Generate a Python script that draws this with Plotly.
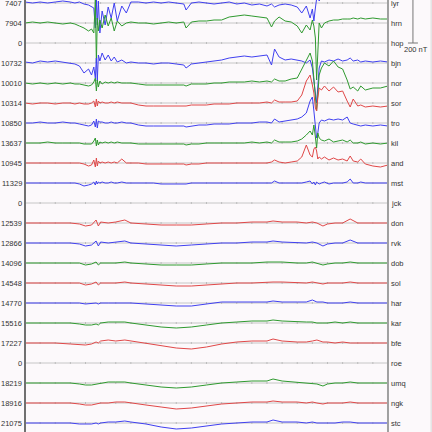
import plotly.graph_objects as go

# Stacked magnetometer plot: station codes (right) and baseline values in nT (left)
STATIONS = ["lyr", "hrn", "hop", "bjn", "nor", "sor", "tro", "kil", "and", "mst", "jck",
            "don", "rvk", "dob", "sol", "har", "kar", "bfe", "roe", "umq", "ngk", "stc"]
BASE_LABELS = ["7407", "7904", "0", "10732", "10010", "10314", "10850", "13637", "10945",
               "11329", "0", "12539", "12866", "14096", "14548", "14770", "15516", "17227",
               "0", "18219", "18916", "21075"]

# time (UT hours)
T_FINE = [0, 0.5, 1, 1.5, 2, 2.5, 3, 3.3, 3.6, 3.9, 4.2, 4.4, 4.55, 4.65, 4.72, 4.78, 4.85,
          4.95, 5.1, 5.3, 5.5, 5.7, 5.9, 6.1, 6.4, 6.7, 7.0, 7.5, 8, 8.5, 9, 9.5, 10, 10.5,
          10.65, 11, 11.5, 12, 12.5, 13, 13.5, 14, 14.5, 15, 15.5, 16, 16.3, 16.5, 16.8,
          17.2, 17.6, 18.0, 18.3, 18.6, 18.85, 19.0, 19.1, 19.2, 19.28, 19.36, 19.45, 19.6,
          19.8, 20.1, 20.4, 20.7, 21.0, 21.3, 21.5, 21.7, 22.0, 22.2, 22.5, 23.0, 23.5, 24.0]
T_COARSE = [0, 1, 2, 3, 3.6, 4.0, 4.4, 4.7, 4.85, 5.0, 5.5, 6.0, 6.6, 7.0, 8, 9, 10, 11, 12,
            13, 14, 15, 16, 16.4, 17, 18, 18.6, 19.0, 19.3, 19.7, 20.0, 20.5, 21.0, 21.5,
            22.0, 23.0, 24.0]

# deviations from baseline (nT)
LYR = [5, 0, 5, 0, 5, 10, 5, 0, 5, -5, -10, -20, -25, -125, 15, -110, 10, -150, -40, -110,
       -20, -75, 0, -90, -15, -50, 5, 5, 0, 5, 0, 5, 0, -5, -35, 0, 5, 0, -5, 0,
       5, -5, 0, -10, -5, -15, -5, -20, -10, -5, -10, -20, -50, -15, -75, -30, -90, -25, 20, 30,
       10, 30, 40, 50, 40, 50, 40, 50, 40, 40, 50, 40, 45, 50, 45, 50]
HRN = [0, 5, 0, 5, 0, -5, 0, -5, -15, -25, -40, -30, -50, 115, -200, 25, -40, 15, -25, 40,
       -15, 25, -40, 10, -15, 0, 5, 0, 0, -5, 0, 5, 0, 5, -25, 5, 10, 10, 15, 15,
       30, 35, 40, 35, 30, 25, -20, 10, 30, 10, 5, -15, -50, -10, -35, 15, -15, -75, -285, -100,
       0, -25, 0, 10, 15, 15, 20, 20, 20, 25, 20, 25, 20, 25, 20, 20]
BJN = [5, 0, 10, 5, 10, 5, 0, -5, -15, -50, -30, -60, -20, -75, 25, -90, 40, 10, 50, 15,
       40, 10, 30, 5, 15, 0, 5, 0, 0, -5, 0, 0, -5, -10, -25, -5, 0, 5, 10, 15,
       25, 30, 35, 30, 35, 40, -10, 70, 30, 15, 20, 15, 10, 0, 15, -25, -75, -150, -200, -100,
       -25, 10, 5, 15, 10, 20, 10, 15, 25, 10, 15, 5, 10, 5, 10, 5]
NOR = [0, -5, 0, -5, 0, -5, 0, -5, -5, -10, -15, -10, 5, 25, -40, 15, -20, 10, -5, 5,
       0, 5, 0, 5, 0, 0, 0, -5, -10, -10, -10, -10, -10, -10, -15, -5, -5, -5, 0, 0,
       5, 5, 5, 10, 5, 10, 5, 20, 10, 10, 20, 25, 70, 120, 150, 110, 25, -75, -140, -60,
       40, 75, 100, 85, 110, 80, 70, 15, -30, -20, -40, -15, -35, -25, -25, -15]
SOR = [0, -5, 0, 0, -5, 0, 0, -5, 0, -5, -5, 0, 10, -20, 20, -15, 10, 0, 5, 0,
       0, 5, 0, 5, 0, 0, 0, -10, -15, -15, -15, -15, -15, -15, -15, -10, -10, -10, -5, -5,
       -5, 0, 0, 0, 0, 5, 0, 15, 5, 5, 5, 10, 40, 110, 140, 90, 50, -25, -40, 25,
       75, 65, 85, 60, 80, 55, 60, 10, -20, 20, -15, -10, -20, -15, -20, -15]
TRO = [0, 0, 5, 0, 0, 5, 0, 0, -5, -10, -15, -10, 10, -20, 20, -25, 10, 5, 5, 0,
       0, 5, 0, 0, 5, 0, 0, -10, -15, -15, -15, -15, -15, -15, -20, -15, -10, -10, -5, -5,
       -5, 0, 0, 0, 5, 5, 0, 20, 5, 10, 15, 20, 30, 50, 110, 130, 60, -25, -75, -50,
       0, 15, 10, 20, 15, 20, 15, 30, 0, -5, -10, -15, -10, -15, -10, -15]
KIL = [0, 0, 0, 5, 0, 0, 0, 0, 0, -5, -5, -5, 10, 25, -15, 15, -10, 5, 0, 5,
       0, 5, 0, 5, 0, 0, 0, -5, -5, -5, -5, -5, -5, -5, -10, -5, -5, 0, 0, 0,
       0, 0, 0, 5, 0, 5, 0, 15, 5, 5, 5, 10, 20, 40, 60, 40, 90, 30, -25, 50,
       25, 15, 10, 20, 5, 10, 15, 5, 15, 0, 0, 5, -5, 0, -5, 0]
AND = [0, 0, 0, 0, 0, 0, 0, 0, 0, -5, -15, -10, 15, -20, 25, -15, 10, 0, 5, 0,
       5, 0, 5, 0, 20, 0, 0, 0, -5, -5, -5, -5, -5, -5, -10, -5, -5, 0, 0, 0,
       0, 0, 0, 0, 0, 0, 5, 15, 5, 0, 5, 10, 30, 90, 40, 30, 70, 80, 60, 20,
       30, 20, 30, 15, 25, 15, 20, 10, 35, 10, 5, 20, -5, -15, -20, -10]
MST = [0, 0, 0, 0, 0, 0, 0, 0, -5, -15, -10, -5, 5, -10, 10, -5, 5, 0, 5, 0,
       0, 5, 0, 0, 5, 0, 0, 0, 0, 0, -5, -5, -5, -5, -5, 0, 0, 0, 0, 0,
       0, 0, 0, 0, 0, 0, 0, 10, 0, 0, 0, 0, 0, 5, 10, -5, 5, -10, 5, 0,
       -5, 0, 5, -5, 0, 0, 0, 5, 20, 0, 0, 5, 0, 0, 0, 0]

DON = [0, 0, 0, 0, -5, -15, -10, 15, -15, 5, 0, 5, 15, 0, -5, -10, -10, -10, -5, 0,
       0, 5, 5, 10, 5, 5, 0, 5, 0, -15, -5, 0, 0, 20, 0, 0, 0]
RVK = [0, 0, 0, 0, -5, -15, -10, 10, -15, 5, 0, 5, 10, 0, -5, -10, -15, -10, -5, 0,
       0, 5, 5, 10, 5, 0, 0, 5, 0, -15, -5, 0, 0, 15, 0, 0, 0]
DOB = [0, 0, 0, 0, 0, -10, -5, 5, -10, 0, 0, 0, 5, 0, -5, -10, -10, -10, -5, 0,
       0, 0, 5, 5, 5, 0, 0, 5, 0, -10, -5, 0, 0, 5, 0, 0, 0]
SOL = [0, 0, 0, 0, 0, -10, -5, 5, -10, 0, 0, 0, 5, 0, -5, -10, -15, -15, -10, -5,
       0, 0, 5, 5, 5, 0, 0, 5, 0, -5, 0, 0, 0, 5, 0, 0, 0]
HAR = [0, 0, 0, 0, 0, -5, 0, 0, -5, 0, 0, 0, 0, 0, -5, -10, -15, -15, -5, 5,
       5, 5, 5, 10, 5, 5, 5, 15, 5, 5, 0, 0, 0, 5, 0, 0, 0]
KAR = [0, 0, 0, 0, -5, -10, -10, -5, -10, 0, 5, 5, 5, 0, -10, -20, -25, -20, -10, 0,
       5, 10, 10, 15, 10, 5, 5, 5, 0, 0, 0, 5, 0, 5, 0, 0, 0]
BFE = [0, 0, 0, -5, -10, -10, -5, 5, 0, 10, 15, 10, 15, 10, 0, -15, -25, -30, -20, -5,
       5, 10, 10, 20, 10, 5, 5, 10, 15, 5, 5, 0, 5, 0, 0, 0, 0]
UMQ = [0, 0, 0, 0, -5, -10, -10, -5, -5, 0, 5, 5, 5, 0, -10, -20, -25, -20, -10, 0,
       5, 10, 10, 20, 10, 5, 0, 0, -5, -15, -5, 0, 0, 5, 0, 0, 0]
NGK = [0, 0, 0, 0, -5, -10, -10, -5, -5, 0, 0, 5, 5, 0, -10, -20, -30, -25, -15, -5,
       0, 5, 5, 10, 5, 5, 0, 5, 0, -5, 0, 0, 0, 5, 0, 0, 0]
STC = [0, 0, 0, 0, -5, -5, -5, 0, -5, 0, 5, 5, 10, 5, -5, -20, -30, -25, -15, -5,
       0, 5, 5, 15, 5, 5, 0, 5, 0, 0, 0, 0, 5, 5, 0, 0, 0]

SERIES = {
    "lyr": (T_FINE, LYR), "hrn": (T_FINE, HRN), "bjn": (T_FINE, BJN), "nor": (T_FINE, NOR),
    "sor": (T_FINE, SOR), "tro": (T_FINE, TRO), "kil": (T_FINE, KIL), "and": (T_FINE, AND),
    "mst": (T_FINE, MST),
    "don": (T_COARSE, DON), "rvk": (T_COARSE, RVK), "dob": (T_COARSE, DOB),
    "sol": (T_COARSE, SOL), "har": (T_COARSE, HAR), "kar": (T_COARSE, KAR),
    "bfe": (T_COARSE, BFE), "umq": (T_COARSE, UMQ), "ngk": (T_COARSE, NGK),
    "stc": (T_COARSE, STC),
}

COLORS = ["#4040f0", "#2f9a2f", "#e04848"]
ROW_STEP = 100      # nT between stacked baselines
SCALE_NT = 200
HOURS = list(range(0, 25))

fig = go.Figure()

# ── baselines with hourly ticks ───────────────────────────────────────────────
bx, by, tx, ty = [], [], [], []
for i, st in enumerate(STATIONS):
    off = -i * ROW_STEP
    bx += [HOURS[0], HOURS[-1], None]
    by += [off, off, None]
    for h in HOURS:
        tx += [h, h, None]
        ty += [off - 5, off + 5, None]
fig.add_trace(go.Scatter(x=bx, y=by, mode="lines",
                         line=dict(color="#c6c6c6", width=1), hoverinfo="skip"))
fig.add_trace(go.Scatter(x=tx, y=ty, mode="lines",
                         line=dict(color="#bcbcbc", width=1), hoverinfo="skip"))

# ── station traces ────────────────────────────────────────────────────────────
for i, st in enumerate(STATIONS):
    if st not in SERIES:
        continue
    t, v = SERIES[st]
    off = -i * ROW_STEP
    fig.add_trace(go.Scatter(
        x=t, y=[off + d for d in v], name=st, mode="lines",
        line=dict(color=COLORS[i % 3], width=1),
    ))

# ── scale bar ─────────────────────────────────────────────────────────────────
fig.add_trace(go.Scatter(x=[25.65, 25.65, None, 25.32, 25.98],
                         y=[20, -SCALE_NT, None, -SCALE_NT, -SCALE_NT],
                         mode="lines", line=dict(color="#777777", width=1),
                         hoverinfo="skip"))

LABEL_FONT = dict(size=7.5, color="#333333")
ann = []
for i, st in enumerate(STATIONS):
    off = -i * ROW_STEP
    ann.append(dict(x=-0.15, y=off, text=BASE_LABELS[i], xanchor="right", yanchor="middle",
                    showarrow=False, font=LABEL_FONT, borderpad=0))
    ann.append(dict(x=24.15, y=off, text=st, xanchor="left", yanchor="middle",
                    showarrow=False, font=LABEL_FONT, borderpad=0))
ann.append(dict(x=25.85, y=-SCALE_NT - 4, text=f"{SCALE_NT} nT", xanchor="center",
                yanchor="top", showarrow=False, font=LABEL_FONT, borderpad=0))

shapes = [
    dict(type="line", xref="x", yref="paper", x0=HOURS[0], x1=HOURS[0], y0=0, y1=1,
         line=dict(color="#707070", width=2)),
    dict(type="line", xref="x", yref="paper", x0=HOURS[-1], x1=HOURS[-1], y0=0, y1=1,
         line=dict(color="#a0a0a0", width=2)),
    dict(type="line", xref="paper", yref="paper", x0=0.998, x1=0.998, y0=0, y1=1,
         line=dict(color="#d8d8d8", width=1)),
]

fig.update_layout(
    width=432, height=432,
    margin=dict(l=0, r=0, t=0, b=0),
    paper_bgcolor="#fcf9fb", plot_bgcolor="#fcf9fb",
    showlegend=False,
    font=dict(family="Liberation Sans, Arial, sans-serif"),
    annotations=ann, shapes=shapes,
)
fig.update_xaxes(range=[-1.653, 26.91], visible=False, fixedrange=True)
fig.update_yaxes(range=[-2145, 15], visible=False, fixedrange=True)

# page body has a default 8px margin; drop it so the figure sits at the window corner
fig.write_html("out.html", config={"displayModeBar": False},
               post_script="document.body.style.margin='0px';")
